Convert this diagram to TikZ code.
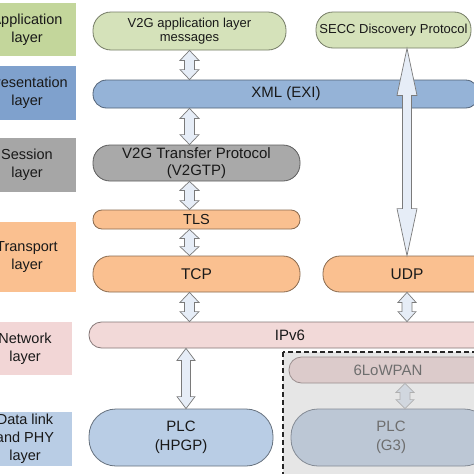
\documentclass[tikz,border=0pt]{standalone}
\usepackage{fontspec}
\setmainfont{Liberation Sans}
\usetikzlibrary{calc}
\definecolor{appLc}{HTML}{C3D69B}
\definecolor{appP}{HTML}{D5E2BA}
\definecolor{presLc}{HTML}{7FA1CD}
\definecolor{presP}{HTML}{95B3D7}
\definecolor{sessLc}{HTML}{A6A6A6}
\definecolor{sessP}{HTML}{A9A9A9}
\definecolor{transLc}{HTML}{FAC090}
\definecolor{transP}{HTML}{FAC090}
\definecolor{netLc}{HTML}{F2D6D6}
\definecolor{netP}{HTML}{F2D9D8}
\definecolor{dataLc}{HTML}{B9CDE5}
\definecolor{dataP}{HTML}{B9CDE5}
\definecolor{dashfill}{HTML}{E6E6E6}
\definecolor{lowP}{HTML}{DCCBCB}
\definecolor{g3P}{HTML}{BCC7D5}
\definecolor{arrowfill}{HTML}{E6EDF7}
\definecolor{arrowdraw}{HTML}{7A7A7A}
\definecolor{fadetext}{HTML}{6E6E6E}
\newcommand\fatarrow[6][]{%
  \draw[fatarrow,#1] let \p1=(#2), \p2=(#3) in
  (\x1,\y1) -- ({\x1+#4pt},{\y1-#6pt}) -- ({\x1+#5pt},{\y1-#6pt})
  -- ({\x1+#5pt},{\y2+#6pt}) -- ({\x1+#4pt},{\y2+#6pt}) -- (\x1,\y2)
  -- ({\x1-#4pt},{\y2+#6pt}) -- ({\x1-#5pt},{\y2+#6pt})
  -- ({\x1-#5pt},{\y1-#6pt}) -- ({\x1-#4pt},{\y1-#6pt}) -- cycle;}
\begin{document}
\begin{tikzpicture}[x=1pt,y=-1pt,
  layerlbl/.style={fill=#1, draw=none, align=center, inner sep=0pt,
    text=black!90, font=\fontsize{14.5}{18}\selectfont},
  proto/.style={fill=#1, draw=#1!55!black, line width=0.8pt, align=center,
    inner sep=0pt, text=black!90},
  fatarrow/.style={fill=arrowfill, draw=arrowdraw, line width=0.7pt, line join=miter},
  fadearrow/.style={fill=arrowfill!80!gray, draw=arrowdraw!60},
  ]
\clip (0,0) rectangle (474,474);
\fill[white] (0,0) rectangle (474,474);
% layer labels
\node[layerlbl=appLc, minimum width=98, minimum height=53] (appL) at (27,29.5) {Application\\layer};
\node[layerlbl=presLc, minimum width=98, minimum height=54] (presL) at (27,93) {Presentation\\layer};
\node[layerlbl=sessLc, minimum width=98, minimum height=54] (sessL) at (27,165) {Session\\layer};
\node[layerlbl=transLc, minimum width=98, minimum height=70] (transL) at (27,257) {Transport\\layer};
\node[layerlbl=netLc, minimum width=94, minimum height=53] (netL) at (25,348.5) {Network\\layer};
\node[layerlbl=dataLc, minimum width=94, minimum height=54] (dataL) at (25,439) {Data link\\and PHY\\layer};
% protocol boxes
\node[proto=appP, minimum width=193, minimum height=38, rounded corners=18,
  font=\fontsize{13}{14}\selectfont] (app) at (189.5,31) {V2G application layer\\messages};
\node[proto=appP, minimum width=155, minimum height=36, rounded corners=17,
  font=\fontsize{13}{14}\selectfont] (secc) at (393.5,30) {SECC Discovery Protocol};
\node[proto=presP, minimum width=386, minimum height=28, rounded corners=13.5,
  font=\fontsize{15}{17}\selectfont] (xml) at (286,94) {XML (EXI)};
\node[proto=sessP, minimum width=207, minimum height=36, rounded corners=17,
  font=\fontsize{15}{17}\selectfont] (v2gtp) at (196.5,163) {V2G Transfer Protocol\\(V2GTP)};
\node[proto=transP, minimum width=207, minimum height=19, rounded corners=9,
  font=\fontsize{14.5}{17}\selectfont] (tls) at (196.5,219.5) {TLS};
\node[proto=transP, minimum width=207, minimum height=36, rounded corners=17,
  font=\fontsize{15.5}{17}\selectfont] (tcp) at (196.5,274) {TCP};
\node[proto=transP, minimum width=168, minimum height=36, rounded corners=17,
  font=\fontsize{15.5}{17}\selectfont] (udp) at (407,274) {UDP};
\node[proto=netP, minimum width=402, minimum height=26, rounded corners=12.5,
  font=\fontsize{15}{17}\selectfont] (ipv6) at (290,335) {IPv6};
% dashed region
\draw[fill=dashfill, draw=black!85, line width=1.6pt, dash pattern=on 5pt off 3pt]
  (283,352) rectangle (490,490);
\node[proto=lowP, draw=lowP!70!black, text=fadetext, minimum width=198, minimum height=26,
  rounded corners=12.5, font=\fontsize{15}{17}\selectfont] (lowpan) at (388,370) {6LoWPAN};
\node[proto=g3P, draw=g3P!70!black, text=fadetext, minimum width=200, minimum height=57,
  rounded corners=27, font=\fontsize{15}{19}\selectfont] (plcg3) at (391,437.5) {PLC\\(G3)};
\node[proto=dataP, minimum width=184, minimum height=57, rounded corners=27,
  font=\fontsize{15}{19}\selectfont] (hpgp) at (181,437.5) {PLC\\(HPGP)};
% arrows
\fatarrow{app.south}{app.south |- xml.north}{9.5}{5}{10}
\fatarrow{app.south |- xml.south}{app.south |- v2gtp.north}{9.5}{5}{10}
\fatarrow{app.south |- v2gtp.south}{app.south |- tls.north}{9.5}{5}{9}
\fatarrow{app.south |- tls.south}{app.south |- tcp.north}{9.5}{5}{9}
\fatarrow{app.south |- tcp.south}{app.south |- ipv6.north}{9.5}{5}{10}
\fatarrow{$(hpgp.north |- ipv6.south)+(5,0)$}{$(hpgp.north)+(5,0)$}{9}{4.5}{12}
\fatarrow{udp.south}{udp.south |- ipv6.north}{9}{5}{10}
\fatarrow[fadearrow]{$(udp.south |- lowpan.south)+(-2,0)$}{$(udp.south |- plcg3.north)+(-2,0)$}{9}{5}{9}
\fatarrow{udp.north |- secc.south}{udp.north}{10}{4.5}{47}
\end{tikzpicture}
\end{document}
